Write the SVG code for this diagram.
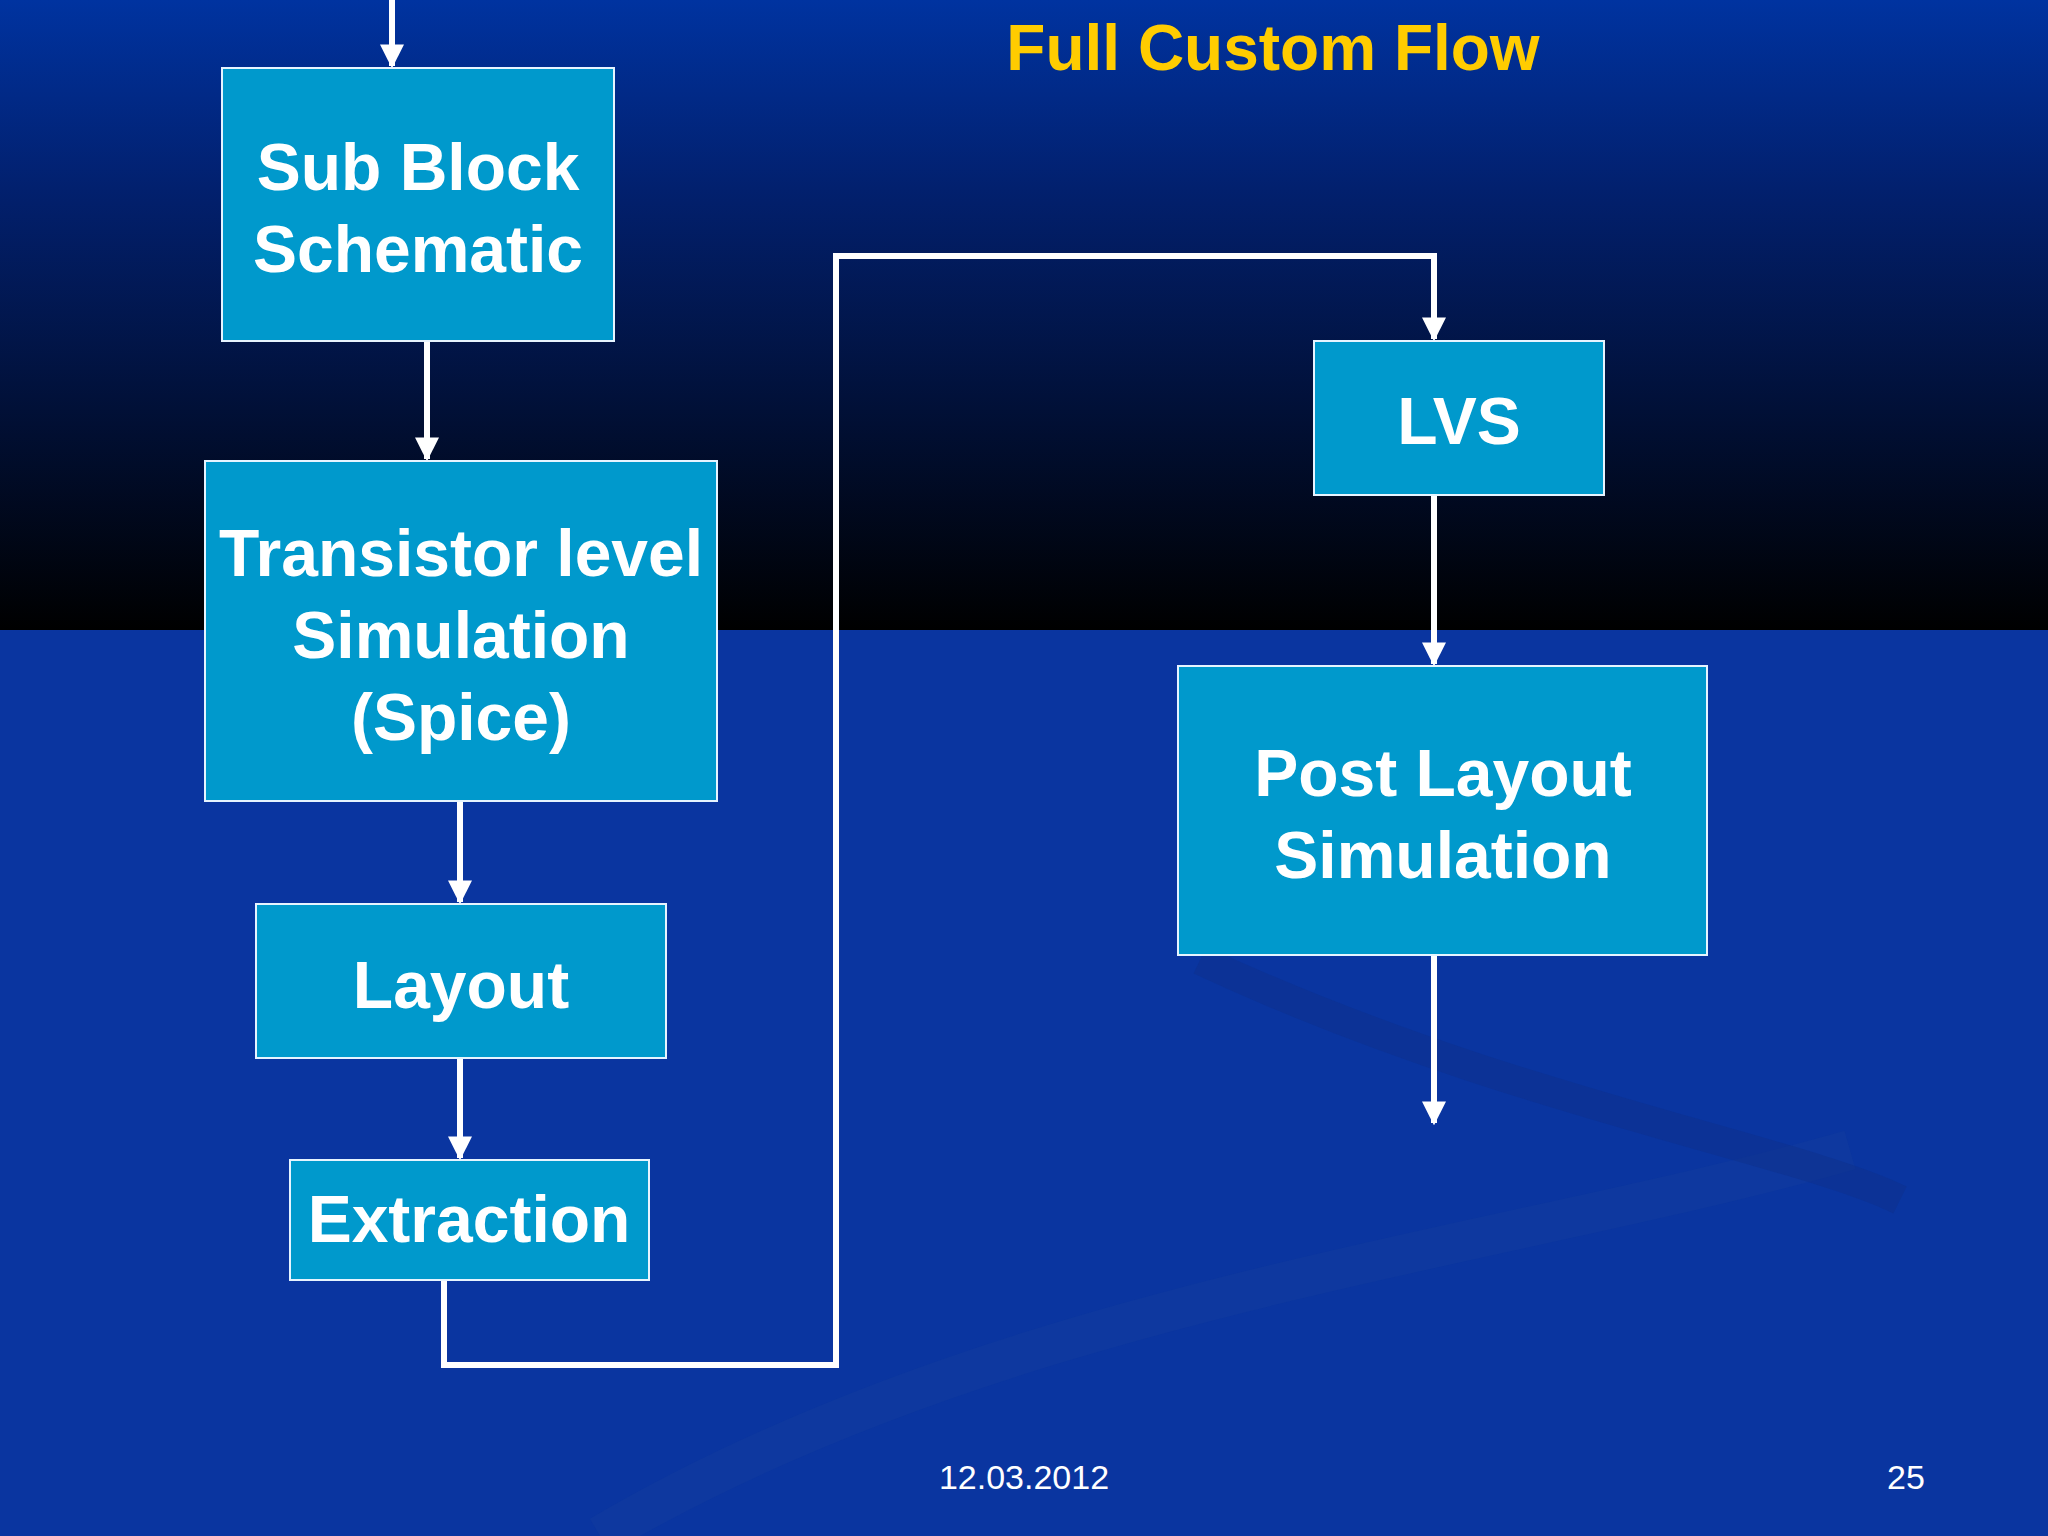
<svg xmlns="http://www.w3.org/2000/svg" width="2048" height="1536" viewBox="0 0 2048 1536">
<defs>
<linearGradient id="top" x1="0" y1="0" x2="0" y2="1">
<stop offset="0" stop-color="#0033a0"/><stop offset="0.3" stop-color="#02206e"/><stop offset="1" stop-color="#000000"/>
</linearGradient>
<marker id="ah" viewBox="0 0 10 10" refX="9" refY="5" markerWidth="4" markerHeight="4" orient="auto" markerUnits="strokeWidth">
<path d="M0,0 L10,5 L0,10 z" fill="#fff"/>
</marker>
<style>
.box{fill:#0099cc;stroke:#e6f4ff;stroke-width:2}
.t{font-family:"Liberation Sans",Arial,sans-serif;font-weight:bold;fill:#fff;text-anchor:middle;font-size:66px}
.c{fill:none;stroke:#fff;stroke-width:6}
.f{font-family:"Liberation Sans",Arial,sans-serif;fill:#fff;font-size:34px;text-anchor:middle}
</style>
</defs>
<rect width="2048" height="1536" fill="#0a35a0"/>
<rect width="2048" height="630" fill="url(#top)"/>
<path d="M600,1536 C1000,1300 1500,1250 1850,1150" fill="none" stroke="#123c9e" stroke-width="40" opacity="0.5"/>
<path d="M1200,960 C1500,1100 1800,1150 1900,1200" fill="none" stroke="#0d2f8c" stroke-width="30" opacity="0.5"/>
<text x="1273" y="70" font-family="Liberation Sans,Arial,sans-serif" font-weight="bold" font-size="64" fill="#ffcc00" text-anchor="middle">Full Custom Flow</text>
<g id="connectors">
<path class="c" d="M392,0 V66" marker-end="url(#ah)"/>
<path class="c" d="M427,341 V459" marker-end="url(#ah)"/>
<path class="c" d="M460,801 V902" marker-end="url(#ah)"/>
<path class="c" d="M460,1058 V1158" marker-end="url(#ah)"/>
<path class="c" d="M444,1280 V1365 H836 V256 H1434 V339" marker-end="url(#ah)"/>
<path class="c" d="M1434,495 V664" marker-end="url(#ah)"/>
<path class="c" d="M1434,955 V1123" marker-end="url(#ah)"/>
</g>
<g id="subblock"><rect class="box" x="222" y="68" width="392" height="273"/>
<text class="t" x="418" y="190">Sub Block</text><text class="t" x="418" y="272">Schematic</text></g>
<g id="transistor"><rect class="box" x="205" y="461" width="512" height="340"/>
<text class="t" x="461" y="576">Transistor level</text><text class="t" x="461" y="658">Simulation</text><text class="t" x="461" y="740">(Spice)</text></g>
<g id="layout"><rect class="box" x="256" y="904" width="410" height="154"/>
<text class="t" x="461" y="1008">Layout</text></g>
<g id="extraction"><rect class="box" x="290" y="1160" width="359" height="120"/>
<text class="t" x="469" y="1242" font-size="58">Extraction</text></g>
<g id="lvs"><rect class="box" x="1314" y="341" width="290" height="154"/>
<text class="t" x="1459" y="444">LVS</text></g>
<g id="postlayout"><rect class="box" x="1178" y="666" width="529" height="289"/>
<text class="t" x="1443" y="796">Post Layout</text><text class="t" x="1443" y="878">Simulation</text></g>
<text class="f" x="1024" y="1489">12.03.2012</text>
<text class="f" x="1906" y="1489">25</text>
</svg>
